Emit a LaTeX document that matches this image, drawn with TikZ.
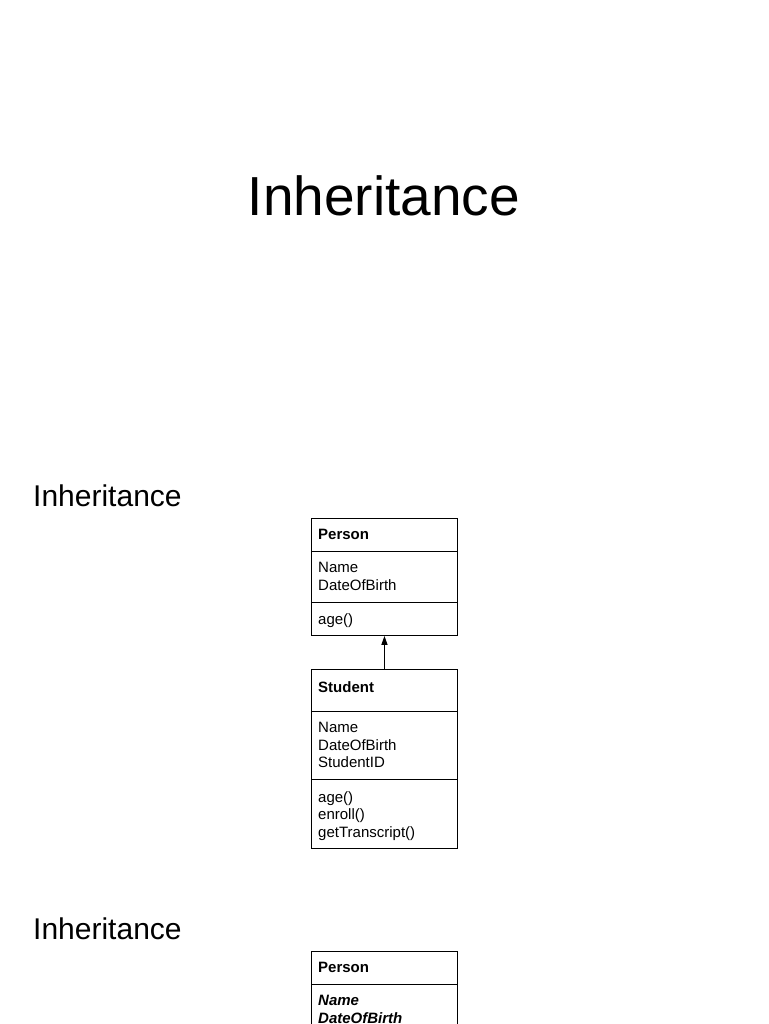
\documentclass[tikz,border=0pt]{standalone}
\usepackage{fontspec}
\setmainfont{Liberation Sans}
\usetikzlibrary{arrows.meta}
\begin{document}
\begin{tikzpicture}[x=1pt,y=-1pt,
  umlbox/.style={draw=black,line width=0.9pt,minimum width=146pt,inner sep=0pt,anchor=north west},
  member/.style={anchor=north west,align=left,inner sep=0pt,font=\fontsize{15}{17.5}\selectfont},
  heading/.style={anchor=west,inner sep=0pt,font=\fontsize{30}{36}\selectfont}]
\useasboundingbox[fill=white] (0,0) rectangle (768,1024);
\begin{scope}
\clip (0,0) rectangle (768,1024);
% title
\node[inner sep=0pt,font=\fontsize{55}{66}\selectfont] (title) at (384,196) {Inheritance};
\node[heading] (h1) at (33,496) {Inheritance};
\node[heading] (h2) at (33,929) {Inheritance};

% Person box 1
\node[umlbox,minimum height=117pt] (person) at (311,518) {};
\draw[line width=0.9pt] (311,551) -- (457,551);
\draw[line width=0.9pt] (311,602) -- (457,602);
\node[member,font=\fontsize{15}{17.5}\selectfont\bfseries] (pname) at (318,529) {Person};
\node[member] (pattr) at (318,562) {Name\\DateOfBirth};
\node[member] (pops) at (318,613) {age()};

% Student box
\node[umlbox,minimum height=179pt] (student) at (311,669) {};
\draw[line width=0.9pt] (311,711) -- (457,711);
\draw[line width=0.9pt] (311,779) -- (457,779);
\node[member,font=\fontsize{15}{17.5}\selectfont\bfseries] (sname) at (318,681) {Student};
\node[member] (sattr) at (318,722) {Name\\DateOfBirth\\StudentID};
\node[member] (sops) at (318,791) {age()\\enroll()\\getTranscript()};

\draw[line width=1.3pt,-{Triangle[length=9pt,width=6pt]}] (student.north) -- (person.south);

% Person box 2 (cut off)
\node[umlbox,minimum height=120pt] (person2) at (311,951) {};
\draw[line width=0.9pt] (311,984) -- (457,984);
\node[member,font=\fontsize{15}{17.5}\selectfont\bfseries] (p2name) at (318,962) {Person};
\node[member,font=\fontsize{15}{17.5}\selectfont\bfseries\itshape] (p2attr) at (318,995) {Name\\DateOfBirth};
\end{scope}
\end{tikzpicture}
\end{document}
